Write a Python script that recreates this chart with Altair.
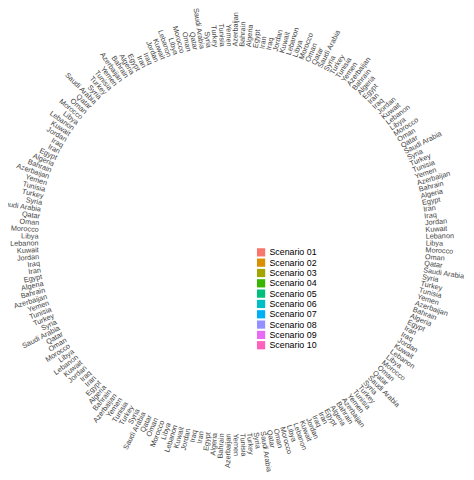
import altair as alt
import pandas as pd

countries = ["Azerbaijan", "Bahrain", "Algeria", "Egypt", "Iran", "Iraq", "Jordan",
             "Kuwait", "Lebanon", "Libya", "Morocco", "Oman", "Qatar", "Saudi Arabia",
             "Syria", "Turkey", "Tunisia", "Yemen"]
scenarios = ["Scenario 01", "Scenario 02", "Scenario 03", "Scenario 04", "Scenario 05",
             "Scenario 06", "Scenario 07", "Scenario 08", "Scenario 09", "Scenario 10"]
colors = ["#F8766D", "#D89000", "#A3A500", "#39B600", "#00BF7D",
          "#00BFC4", "#00B0F6", "#9590FF", "#E76BF3", "#FF62BC"]

n = len(countries) * len(scenarios)
rows = []
i = 0
for s in scenarios:
    for c in countries:
        deg = 360.0 * (i + 0.5) / n
        right = deg < 180
        rot = (deg - 90) % 360 if right else (deg - 270) % 360
        rows.append({"pos": i + 0.5, "label": c, "scenario": s,
                     "rot": rot, "side": "R" if right else "L"})
        i += 1
df = pd.DataFrame(rows)

theta = alt.Theta("pos:Q", scale=alt.Scale(domain=[0, n]), stack=False)

base = alt.Chart(df)

right_labels = base.transform_filter(alt.datum.side == "R").mark_text(
    radius=197, align="left", baseline="middle", fontSize=7.4,
    font="Liberation Sans", color="#444444"
).encode(theta=theta, text="label:N", angle=alt.Angle("rot:Q", scale=None))

left_labels = base.transform_filter(alt.datum.side == "L").mark_text(
    radius=197, align="right", baseline="middle", fontSize=7.4,
    font="Liberation Sans", color="#444444"
).encode(theta=theta, text="label:N", angle=alt.Angle("rot:Q", scale=None))

legend_layer = base.mark_text(radius=0, text=" ").encode(
    theta=theta,
    color=alt.Color("scenario:N",
                    scale=alt.Scale(domain=scenarios, range=colors),
                    legend=alt.Legend(title=None, orient="none", legendX=253, legendY=240,
                                      symbolType="square", symbolSize=70,
                                      symbolOpacity=1, symbolStrokeWidth=0,
                                      labelFontSize=9, labelFont="Liberation Sans",
                                      labelColor="#000000", rowPadding=0.5,
                                      labelOffset=4, padding=0))
)

chart = alt.layer(right_labels, left_labels, legend_layer).properties(
    width=456, height=464,
    autosize=alt.AutoSizeParams(type="none"),
    padding={"left": 0, "top": 0, "right": 10, "bottom": 8},
).configure_view(strokeWidth=0)

chart.save("out.html", embed_options={"renderer": "svg", "actions": False})
